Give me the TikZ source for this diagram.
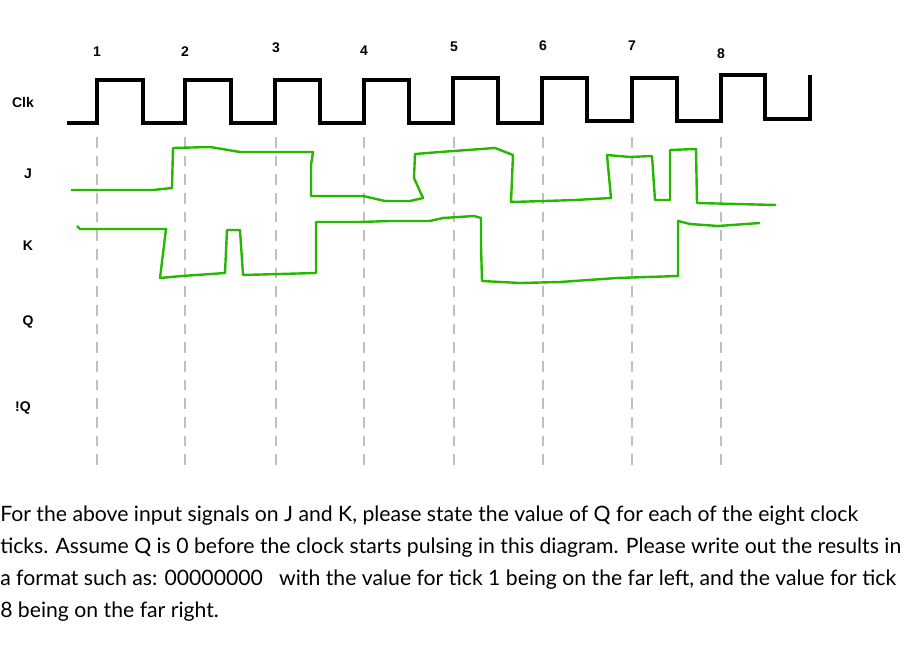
\documentclass[tikz,border=0pt]{standalone}
\usepackage{fontspec}
\setmainfont{Lato}
\newfontfamily\lblfont{Liberation Sans}
\begin{document}
\begin{tikzpicture}[x=0.75pt,y=-0.75pt,
  lbl/.style={font=\lblfont\bfseries\fontsize{10.5}{11}\selectfont,inner sep=0pt},
  grid/.style={draw=black!25,line width=2.2pt,dash pattern=on 8pt off 6pt},
  clk/.style={draw=black,line width=2.4pt},
  sig/.style={draw=green!65!black!80!lime,line width=1.8pt,line join=round},
  txt/.style={font=\fontsize{15.9}{24}\selectfont,anchor=north west,inner sep=0pt,align=left}]
\useasboundingbox (0,0) rectangle (910,652);
\foreach \x/\y [count=\i] in {97/52,185/52,276/48,364/51,454/47,543/46,632/46,721/54}{
  \node[lbl] (n\i) at (\x,\y) {\i};
  \draw[grid] (\x,137) -- (\x,465);
}
\node[lbl] (lclk) at (23,102) {Clk};
\node[lbl] (lj) at (28,174) {J};
\node[lbl] (lk) at (28,246) {K};
\node[lbl] (lq) at (28,322) {Q};
\node[lbl] (lnq) at (23,408) {!Q};
\draw[clk] (67,123) -- (97,123) -- (97,80) -- (143,80) -- (143,123)
  -- (185,123) -- (185,80) -- (231,80) -- (231,123)
  -- (275,123) -- (275,80) -- (320,80) -- (320,123)
  -- (364,123) -- (364,80) -- (409,80) -- (409,123)
  -- (453,123) -- (453,78) -- (498,78) -- (498,123)
  -- (542,123) -- (542,78) -- (587,78) -- (587,121)
  -- (632,121) -- (632,78) -- (677,78) -- (677,121)
  -- (721,121) -- (721,75) -- (765,75) -- (765,119)
  -- (810,119) -- (810,75);
\draw[sig] (71,190) -- (153,190) -- (172,188) -- (173,148) -- (210,147) -- (240,152) -- (313,152)
  -- (311,165) -- (311,196) -- (363,196) -- (385,201) -- (410,201) -- (423,198) -- (414,178)
  -- (415,154) -- (440,152) -- (495,148) -- (513,155) -- (511,202) -- (545,201) -- (575,200)
  -- (611,198) -- (607,155) -- (630,157) -- (652,156) -- (655,200) -- (670,200) -- (670,150)
  -- (696,149) -- (697,203) -- (776,205);
\draw[sig] (77,226) -- (80,229) -- (166,229) -- (161,270) -- (160,278) -- (182,276) -- (225,273)
  -- (227,230) -- (240,230) -- (243,275) -- (316,273) -- (316,222) -- (360,222) -- (390,221)
  -- (430,221) -- (443,218) -- (474,216) -- (481,218) -- (481,245) -- (482,281) -- (520,283)
  -- (560,282) -- (617,278) -- (678,276) -- (678,221) -- (690,224) -- (718,226) -- (760,223);
\node[txt] (q) at (0,506) {For the above input signals on J and K, please state the value of Q for each of the eight clock\\ticks. Assume Q is 0 before the clock starts pulsing in this diagram. Please write out the results in\\a format such as: 00000000~~ with the value for tick 1 being on the far left, and the value for tick\\8 being on the far right.};
\end{tikzpicture}
\end{document}
